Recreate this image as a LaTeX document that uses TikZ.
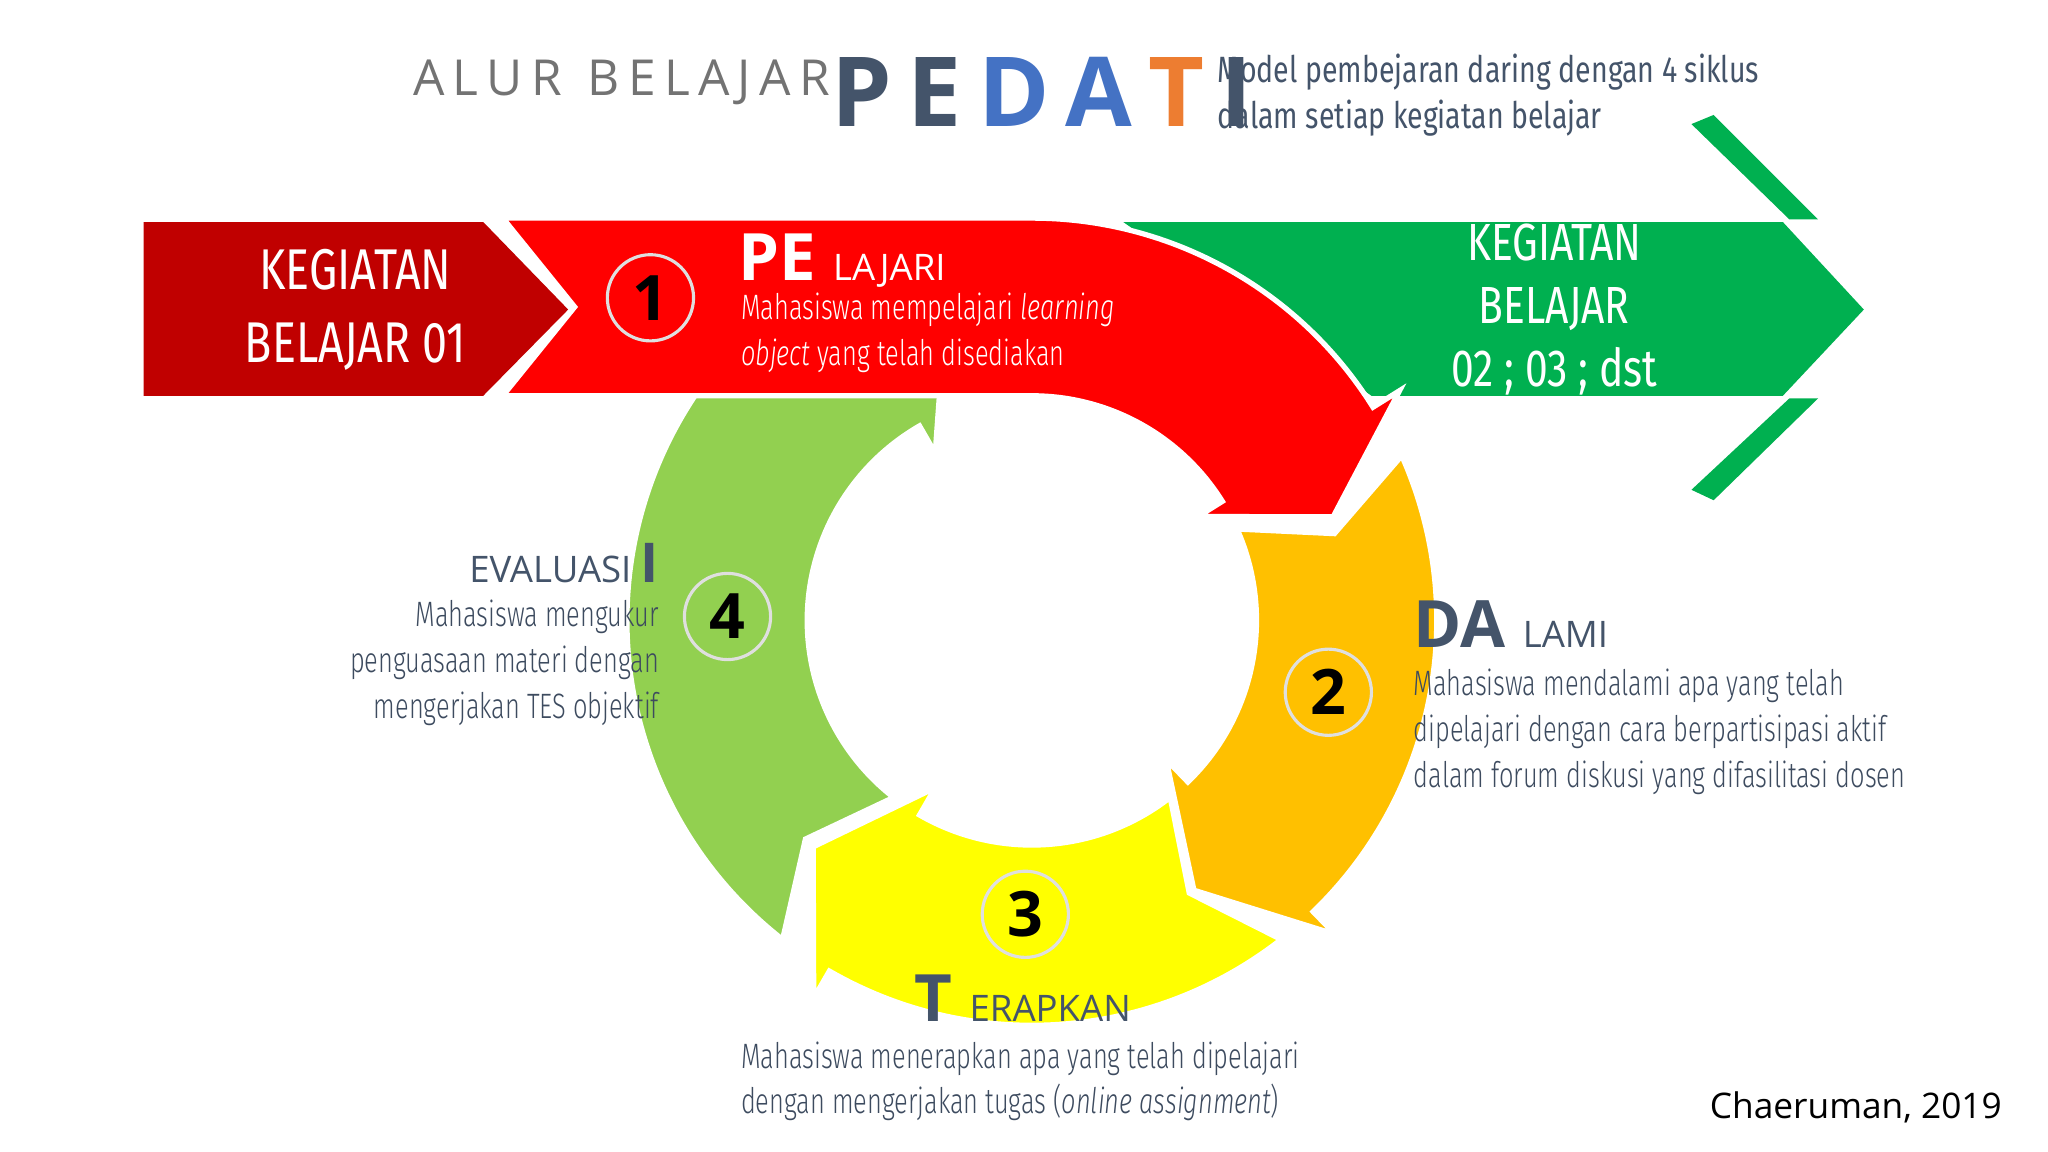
\documentclass[tikz,border=0pt]{standalone}
\usepackage{fontspec}
\setmainfont{Open Sans}
\newfontfamily\cond[FakeStretch=0.78]{Fira Sans}
\newfontfamily\condl[FakeStretch=0.72]{Fira Sans Light}
\definecolor{dred}{HTML}{C00000}
\definecolor{pred}{HTML}{FF0000}
\definecolor{pgreen}{HTML}{00B050}
\definecolor{porange}{HTML}{FFC000}
\definecolor{pyellow}{HTML}{FFFF00}
\definecolor{lgreen}{HTML}{92D050}
\definecolor{slate}{HTML}{44546A}
\definecolor{pblue}{HTML}{4472C4}
\definecolor{porg}{HTML}{ED7D31}
\tikzset{seg/.style={draw=white,line width=2pt},
 numc/.style={circle,minimum size=66*0.5pt,draw=white!75!gray,line width=1.2pt,font=\bfseries\fontsize{24}{24}\selectfont},
 desc/.style={font=\condl\fontsize{13.5}{17.5}\selectfont,text=slate!90!black,inner sep=0pt},
 ktext/.style={font=\cond\fontsize{20}{20}\selectfont,text=white,align=center,inner sep=0pt}}
\begin{document}
\begin{tikzpicture}[x=0.5pt,y=-0.5pt]
\useasboundingbox (0,0) rectangle (1568,882);
% title
\node[anchor=west,text=gray!90!black,font=\fontsize{19}{19}\selectfont,inner sep=0pt] (t1) at (316,63) {A\,L\,U\,R\ \ B\,E\,L\,A\,J\,A\,R};
\node[anchor=west,font=\bfseries\fontsize{37}{37}\selectfont,inner sep=0pt] (t2) at (636,70) {\textcolor{slate}{P\,E}\,\textcolor{pblue}{D\,A}\,\textcolor{porg}{T}\,\textcolor{slate}{I}};
\node[anchor=west,align=left,font=\cond\fontsize{14}{17.5}\selectfont,text=slate,inner sep=0pt] (t3) at (932,73) {Model pembejaran daring dengan 4 siklus\\dalam setiap kegiatan belajar};
% green arrow
\fill[pgreen] (1295,95) -- (1312,88) -- (1392,168) -- (1370,168) -- cycle;
\fill[pgreen] (1295,375) -- (1312,383) -- (1392,305) -- (1370,305) -- cycle;
\fill[pgreen] (860,170) -- (1365,170) -- (1427,237) -- (1365,303) -- (1050,303) -- cycle;
\node[ktext] (g) at (1190,237) {KEGIATAN\\[4pt]BELAJAR\\[4pt]02 ; 03 ; dst};
% dark red arrow
\fill[dred] (110,170) -- (370,170) -- (435,237) -- (370,303) -- (110,303) -- cycle;
\node[ktext,font=\cond\fontsize{22}{22}\selectfont] (k1) at (272,237) {KEGIATAN\\[6pt]BELAJAR 01};
% ring
\begin{scope}[shift={(790,475)},yscale=-1]
\def\segm#1#2#3#4{\filldraw[seg,fill=#1] (#2:310) arc[start angle=#2,end angle=#3,radius=310] -- (#3:334) -- (#4:241) -- (#3:148) -- (#3:172) arc[start angle=#3,end angle=#2,radius=172] -- (#2-8:241) -- cycle;}
\segm{lgreen}{232}{120}{106}
\segm{pyellow}{-52}{-120}{-134}
\segm{porange}{24}{-46}{-59}
\filldraw[seg,fill=pred] (-405,308) -- (0,308) arc[start angle=90,end angle=32,radius=308] -- (32:332) -- (19:244) -- (32:150) -- (32:172) arc[start angle=32,end angle=90,radius=172] -- (-405,172) -- (-350,240) -- cycle;
\end{scope}
% numbers
\node[numc] (n1) at (498,228) {1};
\node[numc] (n2) at (1017,530) {2};
\node[numc] (n3) at (785,700) {3};
\node[numc] (n4) at (557,472) {4};
% labels
\node[anchor=base west,inner sep=0pt,text=white] (l1) at (565,215) {\bfseries\fontsize{25}{25}\selectfont PE\ \mdseries\fontsize{14}{14}\selectfont LAJARI};
\node[desc,anchor=north west,align=left,text=white] (d1) at (567,224) {Mahasiswa mempelajari \textit{learning}\\\textit{object} yang telah disediakan};
\node[anchor=base west,inner sep=0pt,text=slate] (l2) at (1082,496) {\bfseries\fontsize{25}{25}\selectfont DA\ \mdseries\fontsize{14}{14}\selectfont LAMI};
\node[desc,anchor=north west,align=left] (d2) at (1082,512) {Mahasiswa mendalami apa yang telah\\dipelajari dengan cara berpartisipasi aktif\\dalam forum diskusi yang difasilitasi dosen};
\node[anchor=base west,inner sep=0pt,text=slate] (l3) at (700,782) {\bfseries\fontsize{25}{25}\selectfont T\ \mdseries\fontsize{14}{14}\selectfont ERAPKAN};
\node[desc,anchor=north west,align=left] (d3) at (567,797) {Mahasiswa menerapkan apa yang telah dipelajari\\dengan mengerjakan tugas (\textit{online assignment})};
\node[anchor=base east,inner sep=0pt,text=slate] (l4) at (505,446) {\fontsize{14}{14}\selectfont EVALUASI\ \bfseries\fontsize{21}{21}\selectfont I};
\node[desc,anchor=north east,align=right] (d4) at (505,459) {Mahasiswa mengukur\\penguasaan materi dengan\\mengerjakan TES objektif};
\node[anchor=base east,inner sep=0pt,font=\fontsize{13.5}{14}\selectfont] (c) at (1533,856) {Chaeruman, 2019};
\end{tikzpicture}
\end{document}
